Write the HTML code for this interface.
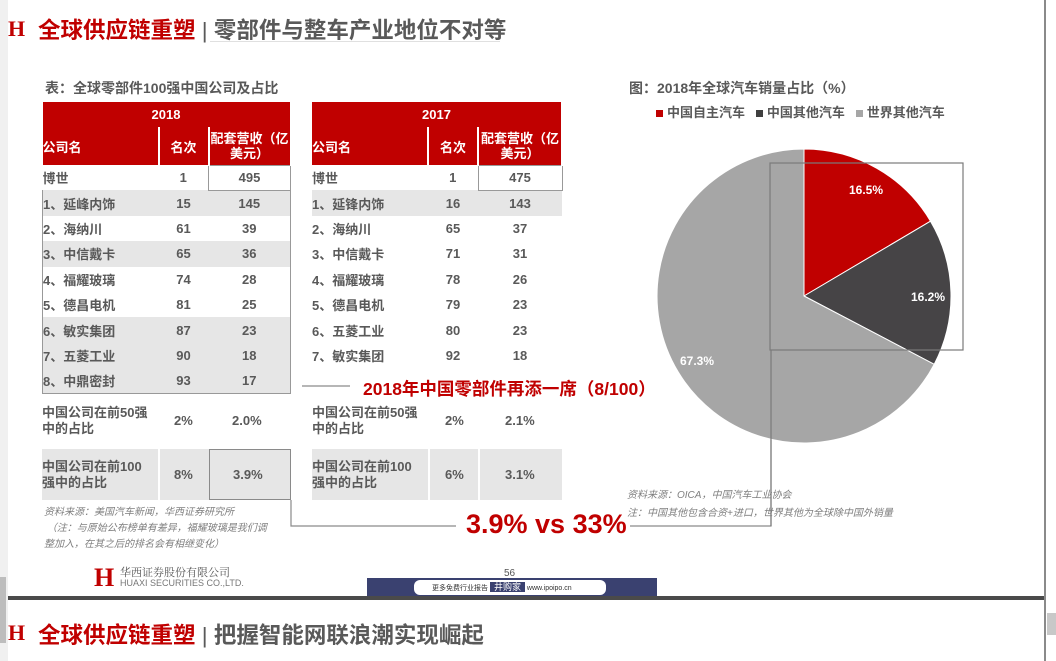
<!DOCTYPE html>
<html><head><meta charset="utf-8"><style>
*{margin:0;padding:0;box-sizing:border-box}
body{width:1056px;height:661px;background:#fff;position:relative;overflow:hidden;font-family:"Liberation Sans","Noto Sans CJK SC",sans-serif;color:#595959}
.a{position:absolute;white-space:nowrap}
.b{font-weight:bold}
table{position:absolute;border-collapse:collapse;table-layout:fixed;font-size:13px;font-weight:bold;color:#595959}
td{height:25.4px;padding:0;text-align:center;overflow:hidden}
td.l{text-align:left}
tr.h td{background:#c00000;color:#fff;border-right:2px solid #fff}
tr.g td{background:#e6e6e6}
.s{font-size:13px;font-weight:bold;color:#595959;line-height:16px}
</style></head><body>
<div class="a" style="left:0;top:0;width:8px;height:661px;background:#f0f0f0"></div>
<div class="a" style="left:0;top:577px;width:6px;height:66px;background:#bdbdbd"></div>
<div class="a" style="left:1044px;top:0;width:2px;height:661px;background:#8a8a8a"></div>
<div class="a" style="left:1047px;top:613px;width:9px;height:22px;background:#c8c8c8"></div>

<!-- header -->
<div class="a b" style="left:8px;top:16px;font-size:22px;color:#c00000;font-family:'Liberation Serif',serif">H</div>
<div class="a b" style="left:38px;top:13px;font-size:22.5px;color:#c00000">全球供应链重塑<span style="color:#595959;font-weight:normal"> | </span><span style="color:#595959">零部件与整车产业地位不对等</span></div>
<div class="a" style="left:210px;top:41px;width:290px;height:1px;background:#e0e0e0"></div>

<div class="a b" style="left:45px;top:78px;font-size:14px">表：全球零部件100强中国公司及占比</div>

<table style="left:42px;top:102px;width:248px">
<colgroup><col style="width:116px"><col style="width:50px"><col style="width:82px"></colgroup>
<tr class="h"><td colspan="3" style="height:25px">2018</td></tr>
<tr class="h"><td class="l" style="height:38px">公司名</td><td>名次</td><td style="line-height:15px">配套营收（亿<br>美元）</td></tr>
<tr><td class="l">博世</td><td>1</td><td style="border:1.5px solid #999">495</td></tr>
<tr class="g"><td class="l" style="border-left:1.5px solid #999">1、延峰内饰</td><td>15</td><td style="border-right:1.5px solid #999">145</td></tr>
<tr><td class="l" style="border-left:1.5px solid #999">2、海纳川</td><td>61</td><td style="border-right:1.5px solid #999">39</td></tr>
<tr class="g"><td class="l" style="border-left:1.5px solid #999">3、中信戴卡</td><td>65</td><td style="border-right:1.5px solid #999">36</td></tr>
<tr><td class="l" style="border-left:1.5px solid #999">4、福耀玻璃</td><td>74</td><td style="border-right:1.5px solid #999">28</td></tr>
<tr><td class="l" style="border-left:1.5px solid #999">5、德昌电机</td><td>81</td><td style="border-right:1.5px solid #999">25</td></tr>
<tr class="g"><td class="l" style="border-left:1.5px solid #999">6、敏实集团</td><td>87</td><td style="border-right:1.5px solid #999">23</td></tr>
<tr class="g"><td class="l" style="border-left:1.5px solid #999">7、五菱工业</td><td>90</td><td style="border-right:1.5px solid #999">18</td></tr>
<tr class="g"><td class="l" style="border-left:1.5px solid #999;border-bottom:1.5px solid #999">8、中鼎密封</td><td style="border-bottom:1.5px solid #999">93</td><td style="border-right:1.5px solid #999;border-bottom:1.5px solid #999">17</td></tr>
</table>

<table style="left:312px;top:102px;width:250px">
<colgroup><col style="width:116px"><col style="width:50px"><col style="width:84px"></colgroup>
<tr class="h"><td colspan="3" style="height:25px">2017</td></tr>
<tr class="h"><td class="l" style="height:38px">公司名</td><td>名次</td><td style="line-height:15px">配套营收（亿<br>美元）</td></tr>
<tr><td class="l">博世</td><td>1</td><td style="border:1.5px solid #999">475</td></tr>
<tr class="g"><td class="l">1、延锋内饰</td><td>16</td><td>143</td></tr>
<tr><td class="l">2、海纳川</td><td>65</td><td>37</td></tr>
<tr><td class="l">3、中信戴卡</td><td>71</td><td>31</td></tr>
<tr><td class="l">4、福耀玻璃</td><td>78</td><td>26</td></tr>
<tr><td class="l">5、德昌电机</td><td>79</td><td>23</td></tr>
<tr><td class="l">6、五菱工业</td><td>80</td><td>23</td></tr>
<tr><td class="l">7、敏实集团</td><td>92</td><td>18</td></tr>
</table>

<!-- bottom stats -->
<div class="a s" style="left:42px;top:405px">中国公司在前50强<br>中的占比</div>
<div class="a s" style="left:174px;top:413px">2%</div>
<div class="a s" style="left:232px;top:413px">2.0%</div>
<div class="a" style="left:42px;top:449px;width:248px;height:51px;background:#e6e6e6"></div>
<div class="a" style="left:158px;top:449px;width:2px;height:51px;background:#fff"></div>
<div class="a" style="left:209px;top:449px;width:82px;height:51px;border:1.5px solid #8a8a8a"></div>
<div class="a s" style="left:42px;top:459px">中国公司在前100<br>强中的占比</div>
<div class="a s" style="left:174px;top:467px">8%</div>
<div class="a s" style="left:233px;top:467px">3.9%</div>

<div class="a s" style="left:312px;top:405px">中国公司在前50强<br>中的占比</div>
<div class="a s" style="left:445px;top:413px">2%</div>
<div class="a s" style="left:505px;top:413px">2.1%</div>
<div class="a" style="left:312px;top:449px;width:250px;height:51px;background:#e6e6e6"></div>
<div class="a" style="left:428px;top:449px;width:2px;height:51px;background:#fff"></div>
<div class="a" style="left:478px;top:449px;width:2px;height:51px;background:#fff"></div>
<div class="a s" style="left:312px;top:459px">中国公司在前100<br>强中的占比</div>
<div class="a s" style="left:445px;top:467px">6%</div>
<div class="a s" style="left:505px;top:467px">3.1%</div>

<div class="a" style="left:44px;top:505px;font-size:10px;font-style:italic;color:#7f7f7f;line-height:16px">资料来源：美国汽车新闻，华西证券研究所<br>&nbsp;（注：与原始公布榜单有差异，福耀玻璃是我们调<br>整加入，在其之后的排名会有相继变化）</div>

<div class="a b" style="left:363px;top:376px;font-size:17.5px;color:#c00000">2018年中国零部件再添一席（8/100）</div>
<div class="a b" style="left:466px;top:509px;font-size:27px;color:#c00000">3.9% vs 33%</div>

<svg class="a" style="left:0;top:0" width="1056" height="661">
<g stroke="#8a8a8a" stroke-width="1.2" fill="none">
<line x1="302" y1="386" x2="350" y2="386"/>
<polyline points="291,500 291,526 456,526"/>
<polyline points="771,350 771,526 630,526"/>
</g>
<path d="M804,296 L804,149 A147,147 0 0 1 930.5,221.2 Z" fill="#c00000" stroke="#fff" stroke-width="1"/>
<path d="M804,296 L930.5,221.2 A147,147 0 0 1 934.2,364.3 Z" fill="#464446" stroke="#fff" stroke-width="1"/>
<path d="M804,296 L934.2,364.3 A147,147 0 1 1 804,149 Z" fill="#a6a6a6" stroke="#fff" stroke-width="1"/>
<rect x="770" y="163" width="193" height="187" fill="none" stroke="#7a7a7a" stroke-width="1.2"/>
<line x1="771" y1="350" x2="771" y2="526" stroke="#7a7a7a" stroke-width="1.2"/>
<g font-family="Liberation Sans,sans-serif" font-weight="bold" font-size="12" fill="#fff" text-anchor="middle">
<text x="866" y="194">16.5%</text><text x="928" y="301">16.2%</text><text x="697" y="365">67.3%</text></g>
</svg>

<div class="a b" style="left:629px;top:78px;font-size:14px">图：2018年全球汽车销量占比（%）</div>
<div class="a b" style="left:656px;top:102px;font-size:13px">
<span style="display:inline-block;width:7px;height:7px;background:#c00000;margin-right:4px"></span>中国自主汽车&nbsp;&nbsp;
<span style="display:inline-block;width:7px;height:7px;background:#404040;margin-right:4px"></span>中国其他汽车&nbsp;&nbsp;
<span style="display:inline-block;width:7px;height:7px;background:#a6a6a6;margin-right:4px"></span>世界其他汽车</div>

<div class="a" style="left:627px;top:487px;font-size:10px;font-style:italic;color:#7f7f7f;line-height:18px">资料来源：OICA，中国汽车工业协会<br>注：中国其他包含合资+进口，世界其他为全球除中国外销量</div>

<!-- footer -->
<div class="a b" style="left:94px;top:563px;font-size:26px;color:#c00000;font-family:'Liberation Serif',serif">H</div>
<div class="a" style="left:120px;top:564px;font-size:11px;color:#555;font-family:'Liberation Serif','Noto Serif CJK SC',serif">华西证券股份有限公司</div>
<div class="a" style="left:120px;top:578px;font-size:9px;color:#777">HUAXI SECURITIES CO.,LTD.</div>
<div class="a" style="left:504px;top:568px;font-size:10px;color:#555">56</div>
<div class="a" style="left:367px;top:578px;width:290px;height:19px;background:#3a4170"></div>
<div class="a" style="left:414px;top:580px;width:192px;height:15px;background:#fff;border-radius:6px;font-size:7px;color:#333;line-height:15px;padding-left:18px">更多免费行业报告 <span style="background:#3a4170;color:#fff;padding:0 4px;font-size:9px">井购家</span> www.ipoipo.cn</div>
<div class="a" style="left:8px;top:596px;width:1036px;height:4px;background:#4a4a4a"></div>

<div class="a b" style="left:8px;top:620px;font-size:22px;color:#c00000;font-family:'Liberation Serif',serif">H</div>
<div class="a b" style="left:38px;top:618px;font-size:22.5px;color:#c00000">全球供应链重塑<span style="color:#595959;font-weight:normal"> | </span><span style="color:#595959">把握智能网联浪潮实现崛起</span></div>
</body></html>
